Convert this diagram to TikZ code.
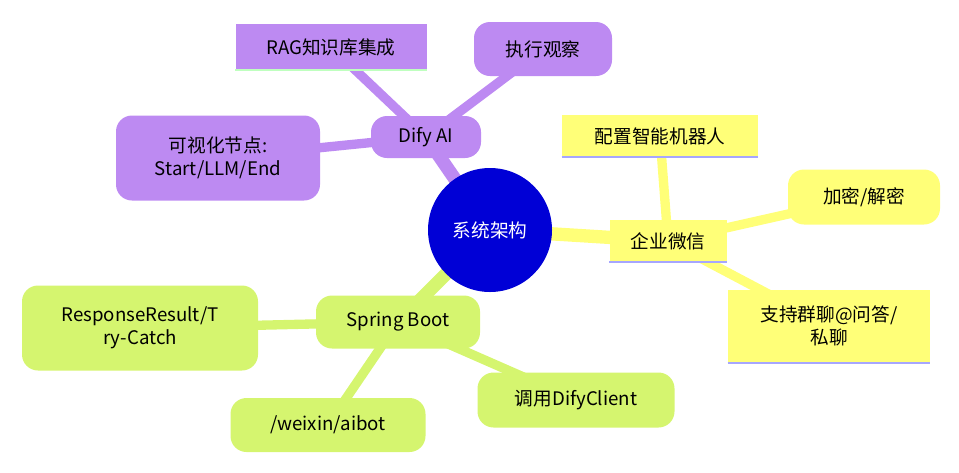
\documentclass[tikz,border=0pt]{standalone}
\usepackage{fontspec}
\setmainfont{Noto Sans CJK SC}
\usetikzlibrary{backgrounds}
\begin{document}
\begin{tikzpicture}[x=0.75pt,y=-0.75pt,font=\fontsize{14}{17}\selectfont]
\definecolor{pur}{HTML}{BD8AF2}
\definecolor{yel}{HTML}{FFFF78}
\definecolor{grn}{HTML}{D5F56F}
\definecolor{rootc}{HTML}{0000D6}
\useasboundingbox (0,0) rectangle (959,472);
\tikzset{
 rbox/.style={rounded corners=12pt,draw=none,inner sep=0pt,align=center},
 sbox/.style={draw=none,inner sep=0pt,align=center},
 edge/.style={line width=7pt,line cap=round}
}
\node[circle,fill=rootc,minimum size=124*0.75pt,text=white,inner sep=0] (root) at (490,230) {系统架构};
% purple
\node[rbox,fill=pur,minimum width=110*0.75pt,minimum height=42*0.75pt] (dify) at (426,137) {Dify AI};
\node[sbox,fill=pur,minimum width=191*0.75pt,minimum height=46*0.75pt] (rag) at (331,47) {RAG知识库集成};
\node[rbox,fill=pur,minimum width=138*0.75pt,minimum height=54*0.75pt] (obs) at (543,49) {执行观察};
\node[rbox,fill=pur,minimum width=204*0.75pt,minimum height=85*0.75pt] (vis) at (218,158) {可视化节点:\\Start/LLM/End};
% yellow
\node[sbox,fill=yel,minimum width=117*0.75pt,minimum height=42*0.75pt] (wx) at (668,241) {企业微信};
\node[sbox,fill=yel,minimum width=196*0.75pt,minimum height=42*0.75pt] (cfg) at (660,136) {配置智能机器人};
\node[rbox,fill=yel,minimum width=152*0.75pt,minimum height=55*0.75pt] (enc) at (864,197) {加密/解密};
\node[sbox,fill=yel,minimum width=202*0.75pt,minimum height=73*0.75pt] (grp) at (829,326) {支持群聊@问答/\\私聊};
% green
\node[rbox,fill=grn,minimum width=164*0.75pt,minimum height=53*0.75pt] (sb) at (398,322) {Spring Boot};
\node[rbox,fill=grn,minimum width=236*0.75pt,minimum height=85*0.75pt] (rr) at (140,328) {ResponseResult/T\\ry-Catch};
\node[rbox,fill=grn,minimum width=195*0.75pt,minimum height=54*0.75pt] (ab) at (328,425) {/weixin/aibot};
\node[rbox,fill=grn,minimum width=197*0.75pt,minimum height=55*0.75pt] (dc) at (576,400) {调用DifyClient};
% underlines
\draw[green!25,line width=1.5pt] (rag.south west) -- (rag.south east);
\foreach \n in {wx,cfg,grp}{\draw[blue!35,line width=1.5pt] (\n.south west) -- (\n.south east);}
% edges
\begin{scope}[on background layer]
\draw[edge,pur,line width=10pt] (root.center) -- (dify.center);
\draw[edge,pur] (dify.center) -- (rag.center);
\draw[edge,pur] (dify.center) -- (obs.center);
\draw[edge,pur] (dify.center) -- (vis.center);
\draw[edge,yel,line width=10pt] (root.center) -- (wx.center);
\draw[edge,yel] (wx.center) -- (cfg.center);
\draw[edge,yel] (wx.center) -- (enc.center);
\draw[edge,yel] (wx.center) -- (grp.center);
\draw[edge,grn,line width=10pt] (root.center) -- (sb.center);
\draw[edge,grn] (sb.center) -- (rr.center);
\draw[edge,grn] (sb.center) -- (ab.center);
\draw[edge,grn] (sb.center) -- (dc.center);
\end{scope}
\end{tikzpicture}
\end{document}
